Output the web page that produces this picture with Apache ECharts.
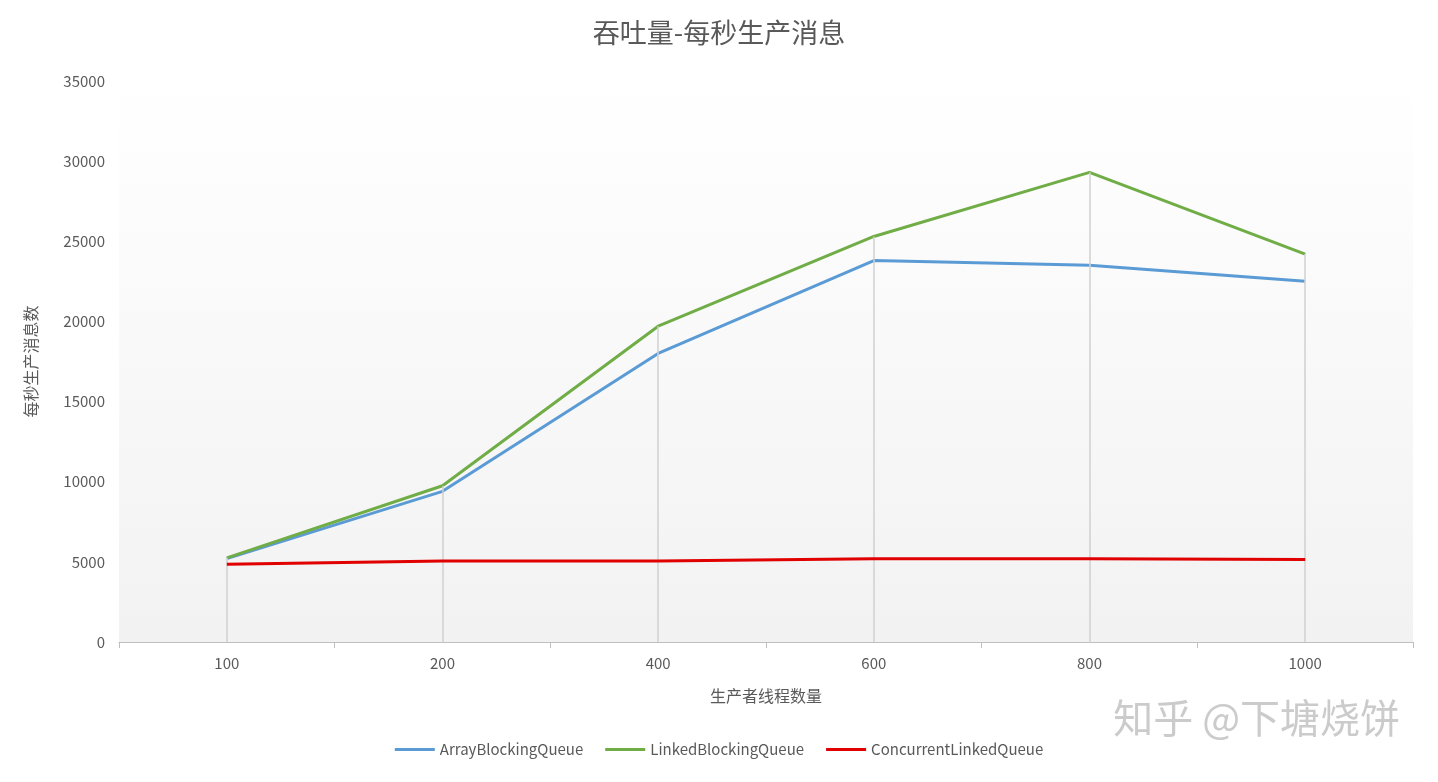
<!DOCTYPE html>
<html><head><meta charset="utf-8">
<script src="https://cdn.jsdelivr.net/npm/echarts@6/dist/echarts.min.js"></script>
<style>html,body{margin:0;padding:0;background:#fff}#c{width:1438px;height:782px}</style>
</head><body><div id="c"></div>
<script>
const categories = ['100','200','400','600','800','1000'];
const arrayBQ = [5200, 9400, 18000, 23800, 23500, 22500];
const linkedBQ = [5250, 9750, 19700, 25300, 29300, 24200];
const concurrentLQ = [4850, 5050, 5050, 5200, 5200, 5150];
const font = 'Noto Sans CJK SC';
const dropLines = categories.map((c, i) => [
  {coord: [i, 0]},
  {coord: [i, Math.max(arrayBQ[i], linkedBQ[i], concurrentLQ[i])]}
]);
const chart = echarts.init(document.getElementById('c'));
chart.setOption({
  animation: false,
  textStyle: {fontFamily: font},
  title: {text: '吞吐量-每秒生产消息', left: 'center', top: 14,
    textStyle: {fontSize: 27, fontWeight: 'normal', color: '#595959', fontFamily: font}},
  grid: {left: 119, right: 25, top: 81, bottom: 140, show: true, borderWidth: 0,
    backgroundColor: new echarts.graphic.LinearGradient(0, 0, 0, 1, [
      {offset: 0, color: '#ffffff'}, {offset: 1, color: '#f2f2f2'}])},
  legend: {bottom: 20, itemWidth: 40, itemHeight: 3, icon: 'rect', itemGap: 22,
    textStyle: {fontSize: 15, color: '#595959'},
    data: ['ArrayBlockingQueue', 'LinkedBlockingQueue', 'ConcurrentLinkedQueue']},
  xAxis: {type: 'category', data: categories, boundaryGap: true,
    name: '生产者线程数量', nameLocation: 'middle', nameGap: 46,
    nameTextStyle: {fontSize: 16, color: '#595959'},
    axisLine: {lineStyle: {color: '#bfbfbf'}},
    axisTick: {show: true, length: 6, lineStyle: {color: '#bfbfbf'}},
    axisLabel: {fontSize: 15, color: '#595959', margin: 14}},
  yAxis: {type: 'value', min: 0, max: 35000, interval: 5000,
    name: '每秒生产消息数', nameLocation: 'middle', nameGap: 80,
    nameTextStyle: {fontSize: 16, color: '#595959'},
    axisLine: {show: false}, axisTick: {show: false}, splitLine: {show: false},
    axisLabel: {fontSize: 15, color: '#595959', margin: 14, formatter: v => String(v)}},
  graphic: [{type: 'text', right: 38, top: 698,
    style: {text: '知乎 @下塘烧饼', fontSize: 40, fill: 'rgba(200,200,200,0.95)', fontFamily: font}}],
  series: [
    {name: 'ArrayBlockingQueue', type: 'line', data: arrayBQ, symbol: 'none',
      lineStyle: {width: 3, color: '#5b9bd5'}, itemStyle: {color: '#5b9bd5'}, z: 3},
    {name: 'LinkedBlockingQueue', type: 'line', data: linkedBQ, symbol: 'none',
      lineStyle: {width: 3, color: '#70ad47'}, itemStyle: {color: '#70ad47'}, z: 4,
      markLine: {silent: true, symbol: 'none', label: {show: false},
        lineStyle: {color: '#d0d0d0', width: 1.5, type: 'solid'}, data: dropLines}},
    {name: 'ConcurrentLinkedQueue', type: 'line', data: concurrentLQ, symbol: 'none',
      lineStyle: {width: 3, color: '#e00000'}, itemStyle: {color: '#e00000'}, z: 5}
  ]
});
</script></body></html>
